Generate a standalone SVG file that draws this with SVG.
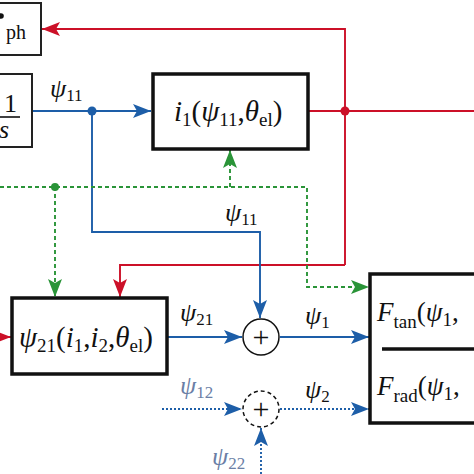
<svg xmlns="http://www.w3.org/2000/svg" width="474" height="474" viewBox="0 0 474 474">
<style>
.t{font-family:"Liberation Serif",serif;fill:#111;}
.i{font-style:italic;}
.box{fill:#fff;stroke:#111;stroke-width:3.5;}
.thin{fill:#fff;stroke:#222;stroke-width:2;}
.red{fill:none;stroke:#cc1028;stroke-width:1.9;}
.blue{fill:none;stroke:#1d5ea8;stroke-width:1.9;}
.bdot{fill:none;stroke:#1d5ea8;stroke-width:1.9;stroke-dasharray:2 2;}
.green{fill:none;stroke:#2a9438;stroke-width:1.9;stroke-dasharray:4 3;}
.gray{fill:#6b7fa6;}
</style>
<defs>
<marker id="ar" markerUnits="userSpaceOnUse" markerWidth="20" markerHeight="14" refX="18" refY="7" orient="auto"><path d="M0,0 L18,7 L0,14 L4,7 Z" fill="#cc1028"/></marker>
<marker id="ab" markerUnits="userSpaceOnUse" markerWidth="20" markerHeight="14" refX="18" refY="7" orient="auto"><path d="M0,0 L18,7 L0,14 L4,7 Z" fill="#1d5ea8"/></marker>
<marker id="ag" markerUnits="userSpaceOnUse" markerWidth="20" markerHeight="14" refX="18" refY="7" orient="auto"><path d="M0,0 L18,7 L0,14 L4,7 Z" fill="#2a9438"/></marker>
</defs>

<g id="connectors">
<path class="red" d="M345,265 L345,29 L42,29" marker-end="url(#ar)"/>
<path class="red" d="M308,111 L474,111"/>
<path class="red" d="M345,265 L120,265 L120,297" marker-end="url(#ar)"/>
<path class="red" d="M-10,337 L11,337" marker-end="url(#ar)"/>
<circle cx="345" cy="111" r="4.5" fill="#cc1028"/>

<path class="blue" d="M32,111 L151,111" marker-end="url(#ab)"/>
<path class="blue" d="M92,111 L92,232 L260,232 L260,318" marker-end="url(#ab)"/>
<path class="blue" d="M167,337 L242,337" marker-end="url(#ab)"/>
<path class="blue" d="M280,337 L369,337" marker-end="url(#ab)"/>
<circle cx="92" cy="111" r="4.5" fill="#1d5ea8"/>

<path class="bdot" d="M162,409 L242,409" marker-end="url(#ab)"/>
<path class="bdot" d="M280,409 L369,409" marker-end="url(#ab)"/>
<path class="bdot" d="M261,474 L261,428" marker-end="url(#ab)"/>

<path class="green" d="M0,187 L307,187 L307,287 L369,287" marker-end="url(#ag)"/>
<path class="green" d="M230,187 L230,150" marker-end="url(#ag)"/>
<path class="green" d="M55,187 L55,297" marker-end="url(#ag)"/>
<circle cx="55" cy="187" r="4" fill="#2a9438"/>

<text class="t i" x="50" y="97" font-size="26">ψ<tspan font-size="17" font-style="normal" dy="4">11</tspan></text>
<text class="t i" x="225" y="221" font-size="26">ψ<tspan font-size="17" font-style="normal" dy="4">11</tspan></text>
<text class="t i" x="180" y="321" font-size="26">ψ<tspan font-size="17" font-style="normal" dy="4">21</tspan></text>
<text class="t i" x="305" y="324" font-size="26">ψ<tspan font-size="17" font-style="normal" dy="4">1</tspan></text>
<text class="t i" x="305" y="398" font-size="26">ψ<tspan font-size="17" font-style="normal" dy="4">2</tspan></text>
<text class="t i gray" x="180" y="394" font-size="26">ψ<tspan font-size="17" font-style="normal" dy="4">12</tspan></text>
<text class="t i gray" x="212" y="465" font-size="26">ψ<tspan font-size="17" font-style="normal" dy="4">22</tspan></text>
</g>

<g id="node-ph">
<rect class="thin" x="-5" y="3" width="46" height="52"/>
<circle cx="1" cy="16" r="2.8" fill="#111"/>
<text class="t" x="6" y="39" font-size="20">ph</text>
</g>

<g id="node-integrator">
<rect class="thin" x="-5" y="74" width="37" height="73"/>
<text class="t" x="4" y="112" font-size="26">1</text>
<path d="M-2,117 L20,117" stroke="#111" stroke-width="1.6"/>
<text class="t i" x="-1" y="138" font-size="26">s</text>
</g>

<g id="node-i1">
<rect class="box" x="153" y="74" width="155" height="75"/>
<text class="t" x="174" y="121" font-size="29"><tspan class="i">i</tspan><tspan font-size="19" dy="5">1</tspan><tspan dy="-5">(</tspan><tspan class="i">ψ</tspan><tspan font-size="19" dy="5">11</tspan><tspan dy="-5">,</tspan><tspan class="i">θ</tspan><tspan font-size="19" dy="5">el</tspan><tspan dy="-5">)</tspan></text>
</g>

<g id="node-psi21">
<rect class="box" x="12" y="298" width="155" height="76"/>
<text class="t" x="19" y="347" font-size="29"><tspan class="i">ψ</tspan><tspan font-size="19" dy="5">21</tspan><tspan dy="-5">(</tspan><tspan class="i">i</tspan><tspan font-size="19" dy="5">1</tspan><tspan dy="-5">,</tspan><tspan class="i">i</tspan><tspan font-size="19" dy="5">2</tspan><tspan dy="-5">,</tspan><tspan class="i">θ</tspan><tspan font-size="19" dy="5">el</tspan><tspan dy="-5">)</tspan></text>
</g>

<g id="node-sum1">
<circle cx="261" cy="337" r="18" fill="#fff" stroke="#111" stroke-width="1.5"/>
<text class="t" x="261" y="347" font-size="30" text-anchor="middle">+</text>
</g>

<g id="node-sum2">
<circle cx="261" cy="409" r="18" fill="#fff" stroke="#111" stroke-width="1.5" stroke-dasharray="4 3"/>
<text class="t" x="261" y="419" font-size="30" text-anchor="middle">+</text>
</g>

<g id="node-F">
<rect class="box" x="370" y="274" width="130" height="149"/>
<path d="M382,349 L480,349" stroke="#111" stroke-width="3.5"/>
<text class="t" x="377" y="321" font-size="27"><tspan class="i">F</tspan><tspan font-size="19" dy="7">tan</tspan><tspan dy="-7">(</tspan><tspan class="i">ψ</tspan><tspan font-size="19" dy="5">1</tspan><tspan dy="-5">,</tspan></text>
<text class="t" x="377" y="395" font-size="27"><tspan class="i">F</tspan><tspan font-size="19" dy="7">rad</tspan><tspan dy="-7">(</tspan><tspan class="i">ψ</tspan><tspan font-size="19" dy="5">1</tspan><tspan dy="-5">,</tspan></text>
</g>
</svg>
